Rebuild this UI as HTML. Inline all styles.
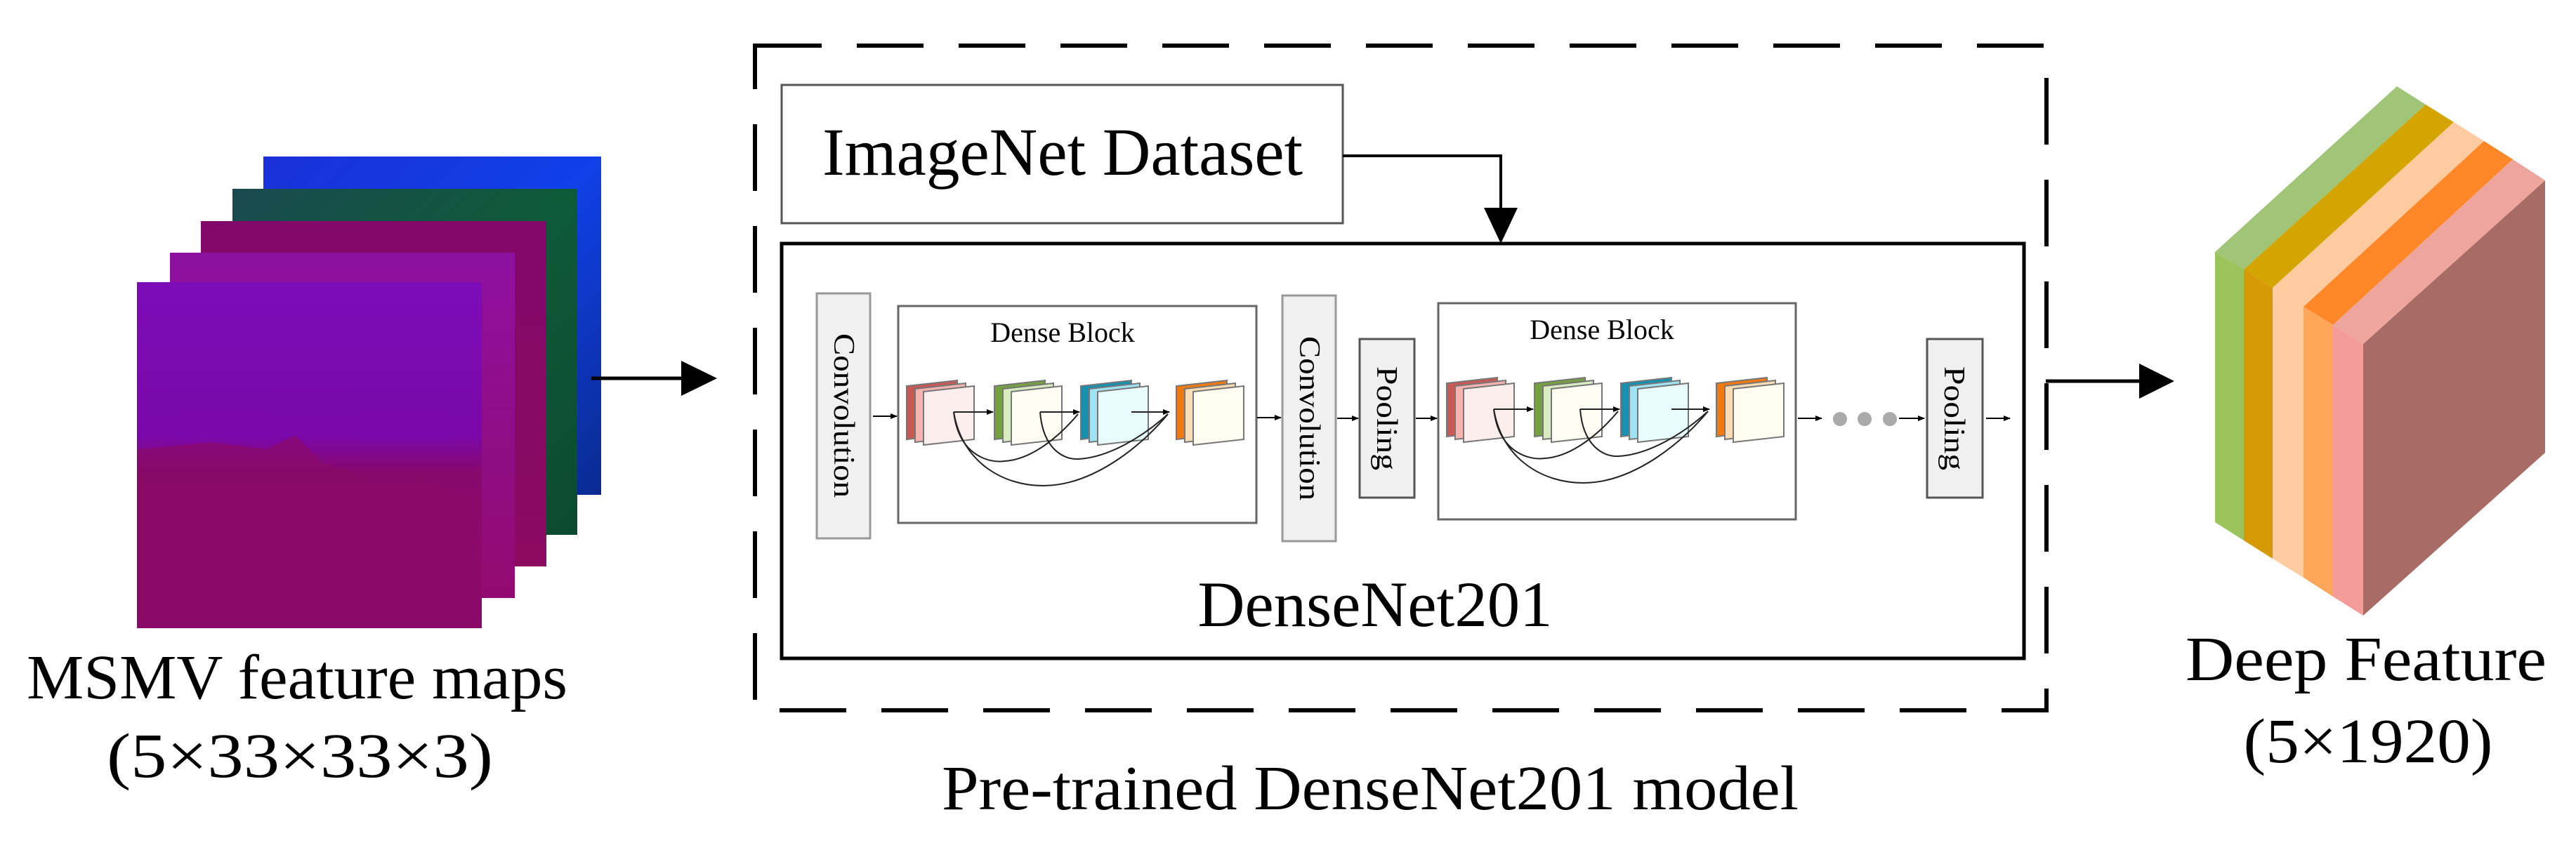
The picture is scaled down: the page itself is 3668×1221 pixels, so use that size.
<!DOCTYPE html>
<html><head><meta charset="utf-8"><style>
html,body{margin:0;padding:0;background:#fff;}
svg{display:block;}
svg text{font-family:"Liberation Serif","DejaVu Serif",serif !important;fill:#000;}
</style></head><body>
<svg width="3668" height="1221" viewBox="0 0 3668 1221" xmlns="http://www.w3.org/2000/svg" font-family="Liberation Serif, DejaVu Serif, serif">
<defs>
<linearGradient id="g5" x1="0" y1="0" x2="1" y2="1"><stop offset="0" stop-color="#1a30d8"/><stop offset="0.5" stop-color="#1040e8"/><stop offset="1" stop-color="#0a2a90"/></linearGradient>
<linearGradient id="g4" x1="0" y1="0" x2="1" y2="1"><stop offset="0" stop-color="#1a4a50"/><stop offset="0.5" stop-color="#0e5a38"/><stop offset="1" stop-color="#0c4a30"/></linearGradient>
<linearGradient id="g3" x1="0" y1="0" x2="0" y2="1"><stop offset="0" stop-color="#82086a"/><stop offset="1" stop-color="#8c0a60"/></linearGradient>
<linearGradient id="g2" x1="0" y1="0" x2="0" y2="1"><stop offset="0" stop-color="#8e10a0"/><stop offset="1" stop-color="#920a70"/></linearGradient>
<linearGradient id="g1" x1="0" y1="0" x2="0" y2="1"><stop offset="0" stop-color="#7c0cb8"/><stop offset="0.45" stop-color="#7a08a8"/><stop offset="0.55" stop-color="#88086c"/><stop offset="1" stop-color="#8e0a6c"/></linearGradient>
<marker id="ah" markerWidth="10" markerHeight="10" refX="9" refY="5" orient="auto" markerUnits="userSpaceOnUse"><path d="M0,1 L10,5 L0,9 z" fill="#000"/></marker>
</defs>

<rect x="375" y="223" width="481" height="482" fill="url(#g5)"/>
<rect x="331" y="269" width="491" height="493" fill="url(#g4)"/>
<rect x="286" y="315" width="492" height="492" fill="url(#g3)"/>
<rect x="242" y="360" width="491" height="492" fill="url(#g2)"/>
<rect x="195" y="402" width="491" height="493" fill="url(#g1)"/>
<path d="M200,640 L300,630 L380,640 L420,620 L460,660 L520,680 L560,690 L600,680 L640,700 L686,700 L686,895 L195,895 L195,640 Z" fill="#8a0a68" opacity="0.7"/>

<text x="423" y="995" font-size="90" text-anchor="middle" textLength="770" lengthAdjust="spacingAndGlyphs">MSMV feature maps</text>
<text x="427" y="1107" font-size="90" text-anchor="middle" textLength="550" lengthAdjust="spacingAndGlyphs">(5×33×33×3)</text>

<line x1="842" y1="539" x2="975" y2="539" stroke="#000" stroke-width="5"/>
<polygon points="970,514 1021,539 970,564" fill="#000"/>

<rect x="1075" y="65" width="1839" height="947" fill="none" stroke="#000" stroke-width="6" stroke-dasharray="95,50"/>

<rect x="1113" y="121" width="799" height="197" fill="#fff" stroke="#555" stroke-width="3"/>
<text x="1171" y="249" font-size="96" textLength="684" lengthAdjust="spacingAndGlyphs">ImageNet Dataset</text>
<polyline points="1912,222 2137,222 2137,300" fill="none" stroke="#000" stroke-width="4"/>
<polygon points="2113,296 2161,296 2137,347" fill="#000"/>

<rect x="1113" y="347" width="1769" height="591" fill="none" stroke="#000" stroke-width="5"/>
<text x="1958" y="892" font-size="92" text-anchor="middle" textLength="505" lengthAdjust="spacingAndGlyphs">DenseNet201</text>

<rect x="1163" y="418" width="76" height="349" fill="#f0f0f0" stroke="#999" stroke-width="3"/>
<text transform="translate(1188,592) rotate(90)" font-size="42" text-anchor="middle" textLength="234" lengthAdjust="spacingAndGlyphs">Convolution</text>
<line x1="1243" y1="593" x2="1277" y2="593" stroke="#000" stroke-width="2" marker-end="url(#ah)"/>

<rect x="1279" y="436" width="510" height="309" fill="#fff" stroke="#666" stroke-width="3"/>
<text x="1513" y="487" font-size="40" text-anchor="middle">Dense Block</text>

<line x1="1790" y1="595" x2="1824" y2="595" stroke="#000" stroke-width="2" marker-end="url(#ah)"/>
<rect x="1826" y="421" width="76" height="350" fill="#f0f0f0" stroke="#999" stroke-width="3"/>
<text transform="translate(1851,596) rotate(90)" font-size="42" text-anchor="middle" textLength="234" lengthAdjust="spacingAndGlyphs">Convolution</text>
<line x1="1904" y1="596" x2="1934" y2="596" stroke="#000" stroke-width="2" marker-end="url(#ah)"/>

<rect x="1936" y="483" width="78" height="226" fill="#f0f0f0" stroke="#555" stroke-width="3"/>
<text transform="translate(1961,596) rotate(90)" font-size="42" text-anchor="middle" textLength="148" lengthAdjust="spacingAndGlyphs">Pooling</text>
<line x1="2016" y1="596" x2="2046" y2="596" stroke="#000" stroke-width="2" marker-end="url(#ah)"/>

<rect x="2048" y="432" width="509" height="308" fill="#fff" stroke="#666" stroke-width="3"/>
<text x="2281" y="483" font-size="40" text-anchor="middle">Dense Block</text>

<line x1="2560" y1="596" x2="2594" y2="596" stroke="#000" stroke-width="2" marker-end="url(#ah)"/>
<circle cx="2620" cy="597" r="10" fill="#aaa"/>
<circle cx="2655" cy="597" r="10" fill="#aaa"/>
<circle cx="2691" cy="597" r="10" fill="#aaa"/>
<line x1="2704" y1="596" x2="2740" y2="596" stroke="#000" stroke-width="2" marker-end="url(#ah)"/>
<rect x="2744" y="483" width="79" height="226" fill="#f0f0f0" stroke="#555" stroke-width="3"/>
<text transform="translate(2769,596) rotate(90)" font-size="42" text-anchor="middle" textLength="148" lengthAdjust="spacingAndGlyphs">Pooling</text>
<line x1="2828" y1="596" x2="2862" y2="596" stroke="#000" stroke-width="2" marker-end="url(#ah)"/>

<g id="cubes1">
  <g transform="translate(1315,550)">
    <polygon points="-24,0 48,-8 48,68 -24,76" fill="#c85a55" stroke="#777" stroke-width="2"/>
    <polygon points="-12,4 60,-4 60,72 -12,80" fill="#f7b3b0" stroke="#777" stroke-width="2"/>
    <polygon points="0,8 72,0 72,76 0,84" fill="#fdeeee" stroke="#777" stroke-width="2"/>
  </g>
  <g transform="translate(1440,550)">
    <polygon points="-24,0 48,-8 48,68 -24,76" fill="#74a040" stroke="#777" stroke-width="2"/>
    <polygon points="-12,4 60,-4 60,72 -12,80" fill="#d8ecc0" stroke="#777" stroke-width="2"/>
    <polygon points="0,8 72,0 72,76 0,84" fill="#fdfdf4" stroke="#777" stroke-width="2"/>
  </g>
  <g transform="translate(1563,550)">
    <polygon points="-24,0 48,-8 48,68 -24,76" fill="#1a90b0" stroke="#777" stroke-width="2"/>
    <polygon points="-12,4 60,-4 60,72 -12,80" fill="#a0e4f4" stroke="#777" stroke-width="2"/>
    <polygon points="0,8 72,0 72,76 0,84" fill="#e8fcfd" stroke="#777" stroke-width="2"/>
  </g>
  <g transform="translate(1699,550)">
    <polygon points="-24,0 48,-8 48,68 -24,76" fill="#f07a10" stroke="#777" stroke-width="2"/>
    <polygon points="-12,4 60,-4 60,72 -12,80" fill="#fcdcb4" stroke="#777" stroke-width="2"/>
    <polygon points="0,8 72,0 72,76 0,84" fill="#fffcf0" stroke="#777" stroke-width="2"/>
  </g>
  <g fill="none" stroke="#222" stroke-width="2">
    <line x1="1358" y1="587" x2="1414" y2="587" marker-end="url(#ah)"/>
    <line x1="1481" y1="587" x2="1537" y2="587" marker-end="url(#ah)"/>
    <line x1="1611" y1="587" x2="1665" y2="587" marker-end="url(#ah)"/>
    <path d="M1358,587 C1365,650 1410,660 1430,657 C1470,655 1510,620 1535,590"/>
    <path d="M1481,587 C1485,640 1515,655 1535,654 C1580,652 1630,620 1663,590"/>
    <path d="M1358,587 C1370,660 1430,692 1485,692 C1560,692 1630,630 1663,590"/>
  </g>
</g>
<use href="#cubes1" transform="translate(769,-4)"/>

<text x="1951" y="1153" font-size="90" text-anchor="middle" textLength="1220" lengthAdjust="spacingAndGlyphs">Pre-trained DenseNet201 model</text>

<line x1="2913" y1="543" x2="3050" y2="543" stroke="#000" stroke-width="5"/>
<polygon points="3046,518 3096,543 3046,568" fill="#000"/>

<polygon points="3365,490 3624,257 3624,645 3365,877" fill="#a86b65"/>
<polygon points="3154,359 3413,123 3454,149 3195,384" fill="#a0c576"/>
<polygon points="3195,384 3454,149 3494,174 3236,410" fill="#d4a500"/>
<polygon points="3236,410 3494,174 3537,201 3280,437" fill="#fecba1"/>
<polygon points="3280,437 3537,201 3578,227 3322,463" fill="#fe8828"/>
<polygon points="3322,463 3578,227 3624,257 3365,490" fill="#eea59e"/>
<polygon points="3154,359 3195,384 3195,770 3154,744" fill="#9bc45c"/>
<polygon points="3195,384 3236,410 3236,796 3195,770" fill="#d59a05"/>
<polygon points="3236,410 3280,437 3280,823 3236,796" fill="#fecca0"/>
<polygon points="3280,437 3322,463 3322,850 3280,823" fill="#fea75a"/>
<polygon points="3322,463 3365,490 3365,877 3322,850" fill="#f49d98"/>

<text x="3369" y="969" font-size="90" text-anchor="middle" textLength="514" lengthAdjust="spacingAndGlyphs">Deep Feature</text>
<text x="3372" y="1086" font-size="90" text-anchor="middle" textLength="355" lengthAdjust="spacingAndGlyphs">(5×1920)</text>
</svg>
</body></html>
